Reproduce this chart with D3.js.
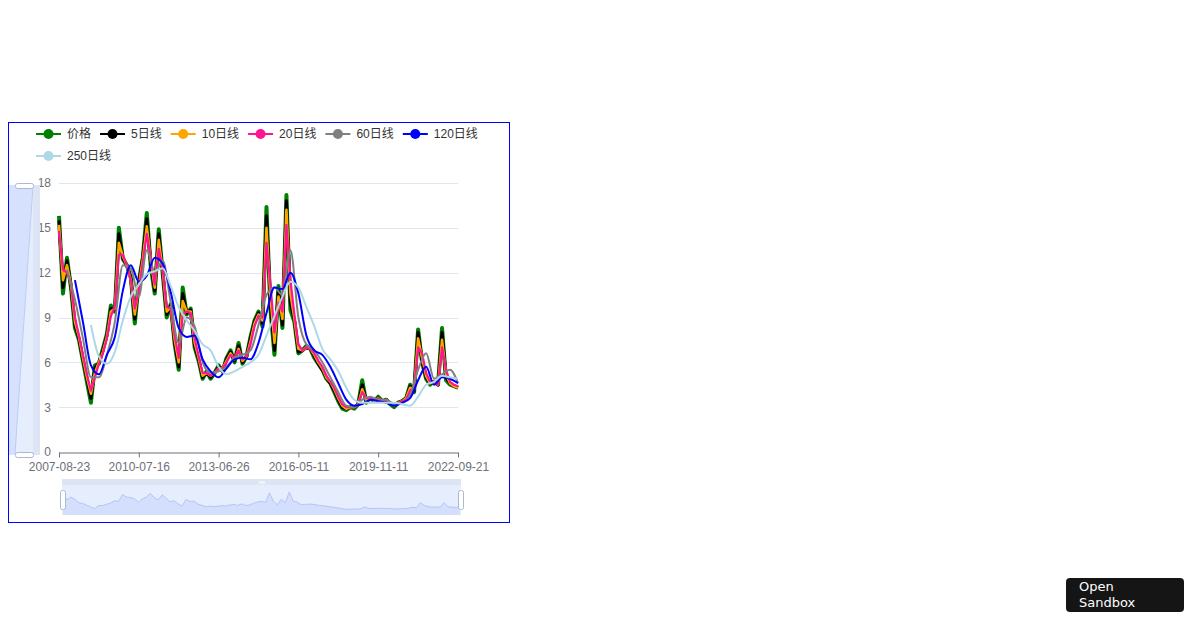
<!DOCTYPE html>
<html><head><meta charset="utf-8">
<script src="https://cdn.jsdelivr.net/npm/d3@7"></script>
<style>
body{margin:0;background:#fff;}
#btn{position:absolute;left:1066px;top:578px;width:118px;height:34px;background:#151515;color:#fff;border-radius:4px;font:13px "DejaVu Sans",sans-serif;box-sizing:border-box;padding:1px 13px;line-height:16px;}
</style></head><body>
<svg id="chart" width="1200" height="630" style="position:absolute;left:0;top:0"></svg>
<div id="btn">Open<br>Sandbox</div>
<script>
// ---- data ----
const tickLabels = ["2007-08-23","2010-07-16","2013-06-26","2016-05-11","2019-11-11","2022-09-21"];
const yTicks = [0,3,6,9,12,15,18];
const seriesNames = ["价格","5日线","10日线","20日线","60日线","120日线","250日线"];
const seriesColors = ["green","black","orange","deeppink","gray","blue","lightblue"];

const price = [15.8,10.6,13.0,11.0,8.3,7.5,6.1,4.7,3.3,5.8,5.9,6.9,7.9,9.8,9.4,15.0,12.9,12.5,11.7,8.6,
11.4,13.0,16.0,12.4,10.6,14.9,11.9,9.0,9.9,7.2,5.5,11.0,9.2,9.6,7.0,6.1,4.9,5.4,4.9,5.3,
5.8,5.4,6.3,6.8,6.0,7.3,5.9,6.4,7.7,8.8,9.4,8.4,16.4,9.5,6.5,11.1,8.3,17.2,9.5,8.7,
6.6,6.8,7.1,6.9,6.3,5.9,5.5,4.9,4.6,4.0,3.4,2.9,2.8,3.0,2.9,3.2,4.8,3.3,3.6,3.4,
3.7,3.4,3.5,3.2,3.0,3.3,3.4,3.6,4.5,4.0,8.2,6.0,4.9,4.5,4.7,4.5,8.3,4.8,4.5,4.4,4.3];

const ma5 = [15.5,11.0,12.8,11.1,8.5,7.6,6.2,4.9,3.6,5.6,6.0,6.8,7.8,9.6,9.5,14.6,13.0,12.5,11.6,8.9,
11.3,13.0,15.6,12.6,10.8,14.6,12.0,9.2,9.8,7.3,5.7,10.6,9.3,9.5,7.1,6.2,5.0,5.3,5.0,5.3,
5.7,5.5,6.2,6.7,6.1,7.1,6.0,6.4,7.6,8.7,9.3,8.6,15.8,9.9,6.8,10.8,8.5,16.8,10.0,8.8,
6.7,6.8,7.0,6.9,6.4,5.9,5.5,5.0,4.6,4.1,3.5,3.0,2.9,3.0,3.0,3.2,4.5,3.4,3.6,3.4,
3.6,3.4,3.5,3.3,3.1,3.3,3.4,3.6,4.4,4.1,8.0,6.1,5.0,4.6,4.7,4.5,8.0,5.0,4.6,4.4,4.3];

const ma10 = [15.2,11.5,12.5,11.2,8.7,7.7,6.3,5.0,3.9,5.3,6.0,6.7,7.7,9.4,9.6,14.0,13.1,12.5,11.5,9.2,
11.1,12.9,15.1,12.8,11.0,14.2,12.1,9.4,9.7,7.5,6.0,10.1,9.4,9.4,7.3,6.3,5.1,5.3,5.1,5.3,
5.6,5.6,6.1,6.6,6.2,6.9,6.1,6.4,7.4,8.6,9.2,8.8,15.0,10.4,7.3,10.4,8.9,16.2,10.6,8.9,
6.9,6.8,7.0,6.9,6.5,6.0,5.6,5.0,4.7,4.2,3.6,3.1,2.9,3.0,3.0,3.2,4.2,3.5,3.6,3.4,
3.6,3.4,3.5,3.3,3.1,3.3,3.4,3.6,4.3,4.2,7.6,6.3,5.1,4.6,4.7,4.5,7.5,5.2,4.6,4.4,4.3];

const ma20 = [14.8,12.2,12.0,11.3,9.0,7.8,6.5,5.2,4.1,5.0,5.9,6.6,7.6,9.1,9.7,13.2,13.2,12.5,11.5,9.6,
10.8,12.7,14.6,13.0,11.2,13.6,12.2,9.7,9.6,7.8,6.3,9.2,9.4,9.3,7.6,6.4,5.3,5.3,5.1,5.3,
5.6,5.6,6.0,6.5,6.3,6.8,6.2,6.4,7.2,8.4,9.1,9.0,14.0,11.2,8.0,10.0,9.4,15.2,11.5,9.2,
7.2,6.8,7.0,6.9,6.6,6.1,5.7,5.1,4.7,4.3,3.7,3.2,3.0,3.0,3.0,3.2,4.0,3.6,3.6,3.5,
3.6,3.4,3.5,3.3,3.1,3.3,3.4,3.5,4.1,4.3,7.0,6.6,5.3,4.7,4.7,4.5,7.0,5.5,4.7,4.5,4.4];

const ma60 = [null,12.2,10.2,7.6,5.0,5.0,6.5,8.7,12.5,12.3,10.4,13.5,12.0,12.8,10.0,7.3,9.0,8.4,6.0,5.3,
5.4,5.7,6.3,6.5,6.8,8.5,10.5,11.0,10.5,13.5,9.0,7.2,6.8,6.0,5.0,4.0,3.1,3.0,3.5,3.7,
3.5,3.5,3.2,3.3,3.8,5.5,6.6,4.9,5.2,5.5,4.6];

const ma120 = [null,null,11.5,8.7,5.8,5.2,6.5,7.7,10.8,12.5,11.4,11.8,13.0,12.6,10.7,8.3,7.7,7.8,6.2,5.4,
5.0,5.6,6.2,6.3,6.2,7.3,9.3,11.0,10.9,12.0,10.6,7.8,6.8,6.5,5.7,4.6,3.5,3.1,3.2,3.5,
3.4,3.3,3.1,3.3,3.6,4.8,5.7,4.5,5.0,4.9,4.6];

const ma250 = [null,null,null,null,8.5,6.4,5.9,6.7,8.8,10.4,11.2,11.9,12.1,12.3,11.1,9.7,8.8,8.1,7.2,6.8,
5.7,5.2,5.4,5.7,6.0,6.5,7.8,9.1,10.4,11.4,11.0,9.7,8.4,6.9,6.2,5.4,4.3,3.5,3.3,3.3,
3.3,3.3,3.3,3.2,3.1,3.7,4.5,4.7,5.1,5.0,4.9];

const allSeries = [price, ma5, ma10, ma20, ma60, ma120, ma250];
const seriesWidths = [4, 3.2, 2.6, 2.2, 2, 2, 2];

// ---- drawing ----
const svg = d3.select("#chart");
const font = "'Liberation Sans', Arial, 'Noto Sans CJK SC', sans-serif";

// container border
svg.append("rect").attr("x",8.5).attr("y",122.5).attr("width",501).attr("height",400)
  .attr("fill","none").attr("stroke","blue").attr("stroke-width",1);

const x = d3.scaleLinear().domain([0,100]).range([59,458]);
const y = d3.scaleLinear().domain([0,18]).range([452,183]);

// grid
svg.append("g").selectAll("line").data(yTicks.filter(v=>v>0)).join("line")
  .attr("x1",59).attr("x2",458).attr("y1",d=>Math.round(y(d))+0.5).attr("y2",d=>Math.round(y(d))+0.5)
  .attr("stroke","#E0E6F1").attr("stroke-width",1);

// y axis labels
const ya = svg.append("g").attr("transform","translate(59,0)")
  .call(d3.axisLeft(y).tickValues(yTicks).tickSize(0).tickPadding(8).tickFormat(d3.format("d")));
ya.select(".domain").remove();
ya.selectAll("text").attr("fill","#6E7079").style("font-family",font).style("font-size","12px");

// x axis
const xa = svg.append("g").attr("transform","translate(0,452.5)")
  .call(d3.axisBottom(x).tickValues([0,20,40,60,80,100]).tickSizeInner(5).tickSizeOuter(0).tickPadding(5)
    .tickFormat((d,i)=>tickLabels[i]));
xa.select(".domain").attr("stroke","#6E7079");
xa.selectAll(".tick line").attr("stroke","#6E7079");
xa.selectAll("text").attr("fill","#6E7079").style("font-family",font).style("font-size","12px");

// series
const plot = svg.append("g");
allSeries.forEach((arr,k)=>{
  const step = 100/(arr.length-1);
  const smooth = k>=4;
  const line = d3.line().defined(d=>d!=null).x((d,i)=>x(i*step)).y(d=>y(d))
    .curve(smooth ? d3.curveMonotoneX : d3.curveLinear);
  plot.append("path").datum(arr).attr("d",line).attr("fill","none")
    .attr("stroke",seriesColors[k]).attr("stroke-width",seriesWidths[k]).attr("stroke-linejoin","round");
});

// legend
const leg = svg.append("g");
let lx = 36, ly = 134;
seriesNames.forEach((name,k)=>{
  const g = leg.append("g");
  const t = g.append("text").text(name).attr("y",0).attr("dy","0.35em")
    .style("font-family",font).style("font-size","12px").attr("fill","#333");
  const w = t.node().getComputedTextLength();
  const iw = 25+5+w;
  if (lx + iw > 500) { lx = 36; ly += 22; }
  g.attr("transform",`translate(${lx},${ly})`);
  t.attr("x",31);
  g.insert("line","text").attr("x1",0).attr("x2",25).attr("y1",0).attr("y2",0)
    .attr("stroke",seriesColors[k]).attr("stroke-width",2);
  g.insert("circle","text").attr("cx",12.5).attr("cy",0).attr("r",5).attr("fill",seriesColors[k]);
  lx += iw + 10;
});

// vertical dataZoom (left)
const vz = svg.append("g");
vz.append("rect").attr("x",9).attr("y",185).attr("width",31).attr("height",270).attr("fill","#e6edfc");
vz.append("polygon").attr("points","9,185 33,185 15,455 9,455").attr("fill","#d5e1fd");
vz.append("line").attr("x1",33).attr("y1",186).attr("x2",15).attr("y2",454).attr("stroke","#bccdf6").attr("stroke-width",1);
vz.append("rect").attr("x",33).attr("y",185).attr("width",7).attr("height",270).attr("fill","#dde4f4");
vz.append("rect").attr("x",40.5).attr("y",327).attr("width",2).attr("height",4).attr("fill","#fff");
[183,452].forEach(yy=>{
  vz.append("rect").attr("x",15.5).attr("y",yy+0.5).attr("width",18).attr("height",5).attr("rx",2)
    .attr("fill","#fff").attr("stroke","#acb8d1").attr("stroke-width",1);
});

// horizontal dataZoom (bottom)
const hz = svg.append("g");
hz.append("rect").attr("x",62).attr("y",479).attr("width",399).attr("height",6).attr("fill","#dde4f3");
hz.append("rect").attr("x",62).attr("y",485).attr("width",399).attr("height",30).attr("fill","#e6edfc");
[259.5,261.5,263.5].forEach(xx=>hz.append("rect").attr("x",xx).attr("y",481).attr("width",1).attr("height",3).attr("fill","#fff"));
const xs = d3.scaleLinear().domain([0,100]).range([63,460]);
const ys = d3.scaleLinear().domain([0,18]).range([512.6,491]);
hz.append("path").datum(price).attr("d",d3.area().x((d,i)=>xs(i)).y0(515).y1(d=>ys(d)))
  .attr("fill","#d3dffc");
hz.append("path").datum(price).attr("d",d3.line().x((d,i)=>xs(i)).y(d=>ys(d)))
  .attr("fill","none").attr("stroke","#b3c6f5").attr("stroke-width",1);
[60,458].forEach(xx=>{
  hz.append("rect").attr("x",xx+0.5).attr("y",490.5).attr("width",5).attr("height",19).attr("rx",2)
    .attr("fill","#fff").attr("stroke","#acb8d1").attr("stroke-width",1);
});
</script>
</body></html>
